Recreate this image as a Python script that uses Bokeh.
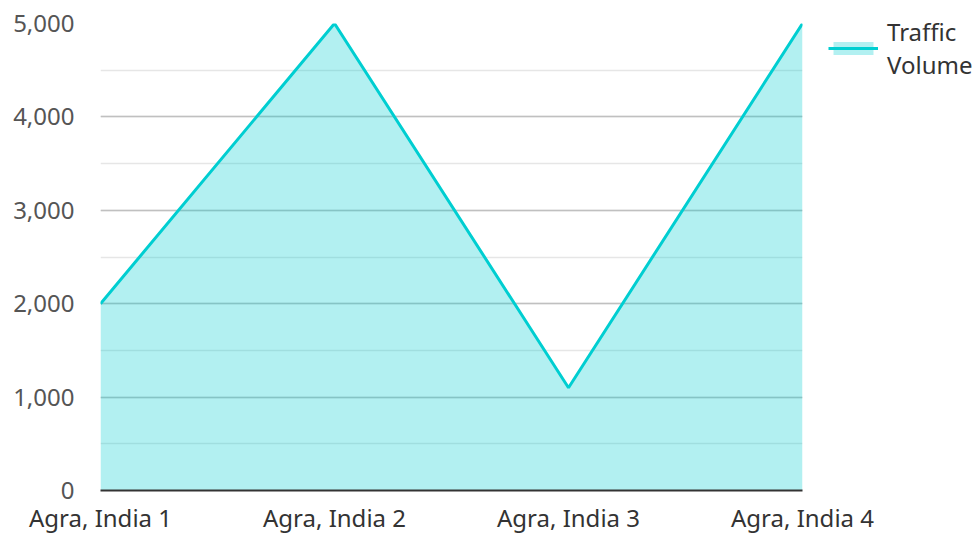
from bokeh.plotting import figure
from bokeh.models import (ColumnDataSource, FixedTicker, SingleIntervalTicker, NumeralTickFormatter,
                          Legend, LegendItem, Range1d)
from bokeh.embed import file_html
from bokeh.resources import INLINE

categories = ["Agra, India 1", "Agra, India 2", "Agra, India 3", "Agra, India 4"]
traffic_volume = [2000, 5000, 1100, 5000]

xs = list(range(len(categories)))
src = ColumnDataSource(dict(x=xs, y=traffic_volume, y0=[0] * len(xs)))

p = figure(output_backend="svg", toolbar_location=None,
           x_range=Range1d(0, len(categories) - 1), y_range=Range1d(0, 5000),
           min_border_left=100, min_border_top=23, min_border_bottom=35, min_border_right=0)
p.frame_width = 702
p.frame_height = 467
p.outline_line_color = None
p.background_fill_color = "white"

area = p.varea(x="x", y1="y0", y2="y", source=src, fill_color="#00CED1", fill_alpha=0.3)
line = p.line(x="x", y="y", source=src, line_color="#00CED1", line_width=3)

# axes
p.xaxis.ticker = FixedTicker(ticks=xs)
p.xaxis.major_label_overrides = {i: c for i, c in enumerate(categories)}
p.xaxis.major_tick_line_color = None
p.xaxis.minor_tick_line_color = None
p.xaxis.axis_line_color = "#333333"
p.xaxis.axis_line_width = 2
p.xaxis.major_label_text_font = "Noto Sans"
p.xaxis.major_label_text_font_size = "24px"
p.xaxis.major_label_text_color = "#333333"
p.xaxis.major_label_standoff = 4

p.yaxis.ticker = SingleIntervalTicker(interval=1000, num_minor_ticks=2)
p.yaxis.formatter = NumeralTickFormatter(format="0,0")
p.yaxis.axis_line_color = None
p.yaxis.major_tick_line_color = None
p.yaxis.minor_tick_line_color = None
p.yaxis.major_label_text_font = "Noto Sans"
p.yaxis.major_label_text_font_size = "24px"
p.yaxis.major_label_text_color = "#555555"
p.yaxis.major_label_standoff = 20

p.xgrid.grid_line_color = None
p.ygrid.ticker = SingleIntervalTicker(interval=1000, num_minor_ticks=2)
p.ygrid.grid_line_color = "#c0c0c0"
p.ygrid.grid_line_width = 1.5
p.ygrid.minor_grid_line_color = "#e6e6e6"
p.ygrid.minor_grid_line_width = 1.5

legend = Legend(items=[LegendItem(label="Traffic\nVolume", renderers=[area, line])],
                location=(26, 409), border_line_color=None, background_fill_alpha=0,
                label_text_font="Noto Sans", label_text_font_size="24px",
                label_text_color="#333333", glyph_width=50, glyph_height=16,
                padding=0, margin=0, spacing=0, label_standoff=9)
p.add_layout(legend, "right")

open("out.html", "w").write(file_html(p, INLINE))
